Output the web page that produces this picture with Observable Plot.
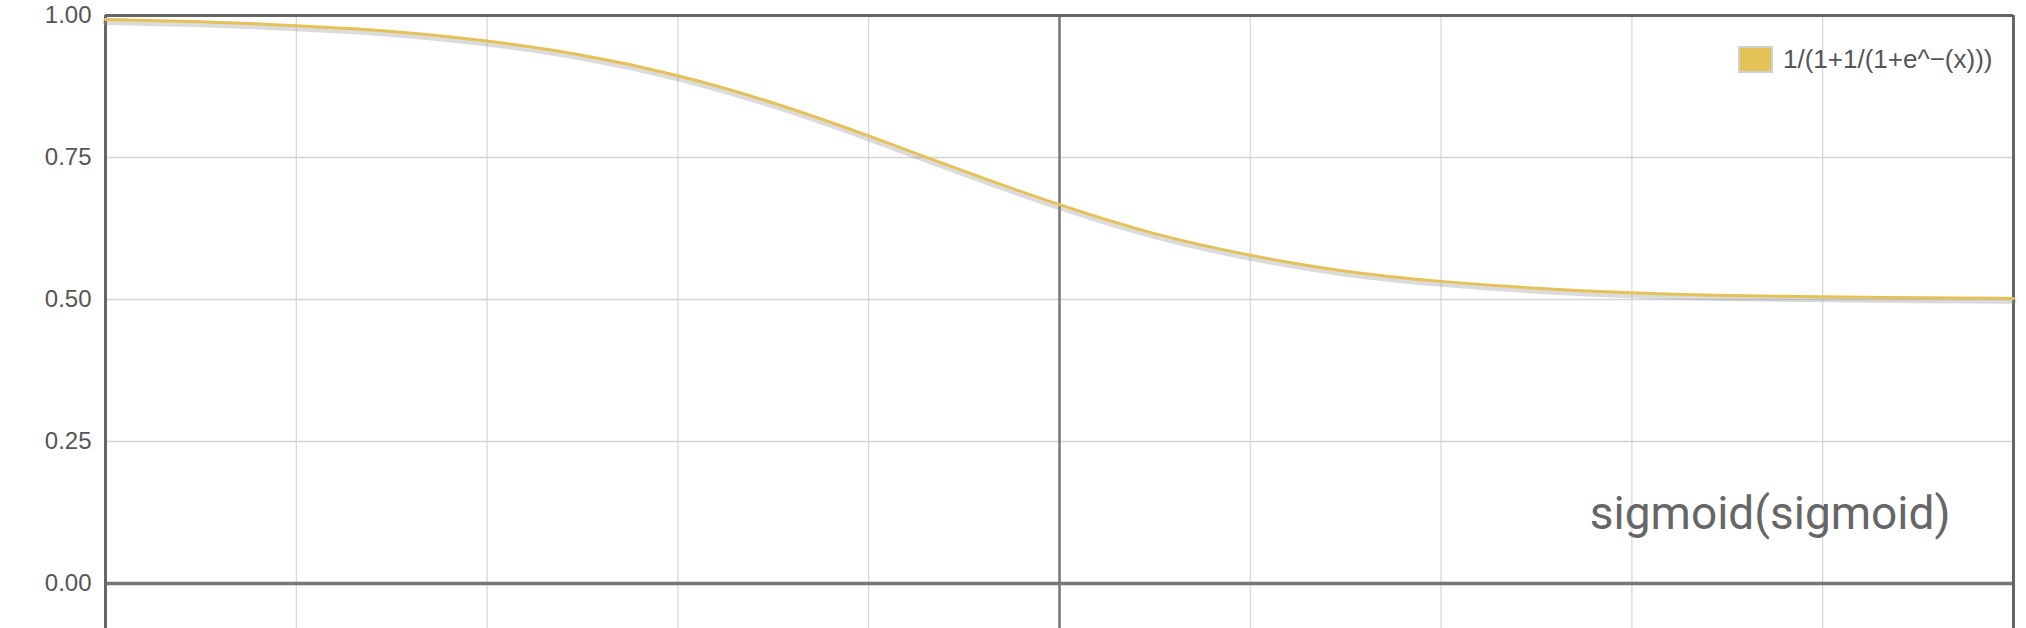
<!DOCTYPE html>
<html>
<head>
<meta charset="utf-8">
<script src="https://cdn.jsdelivr.net/npm/d3@7"></script>
<script src="https://cdn.jsdelivr.net/npm/@observablehq/plot@0.6"></script>
<style>
  html, body { margin: 0; padding: 0; background: #fff; }
  #wrap { position: relative; width: 2026px; height: 628px; font-family: "Liberation Sans", Arial, sans-serif; }
  #legend { position: absolute; left: 1738px; top: 44px; display: flex; align-items: center; font-size: 26px; color: #555; }
  #legend .sw { width: 31px; height: 23px; background: #e5c257; border: 2px solid #d0d0d0; margin-right: 10px; }
</style>
</head>
<body>
<div id="wrap"><div id="legend"><div class="sw"></div><span>1/(1+1/(1+e^−(x)))</span></div></div>
<script>
// x positions and values
const xs = [-5, -4.5, -4, -3.5, -3, -2.5, -2, -1.5, -1, -0.5, 0, 0.5, 1, 1.5, 2, 2.5, 3, 3.5, 4, 4.5, 5];
const ys = [0.993, 0.989, 0.982, 0.972, 0.955, 0.930, 0.894, 0.846, 0.788, 0.726, 0.667, 0.616, 0.578, 0.550, 0.532, 0.520, 0.512, 0.507, 0.505, 0.503, 0.502];
const xGrid = [-5, -4, -3, -2, -1, 0, 1, 2, 3, 4, 5];
const yTicks = [0, 0.25, 0.5, 0.75, 1];
const seriesLabel = "1/(1+1/(1+e^−(x)))";
const annotation = ["sigmoid(sigmoid)"];

const data = xs.map((x, i) => ({x, y: ys[i]}));

const chart = Plot.plot({
  width: 2026,
  height: 628,
  marginLeft: 105,
  marginRight: 13,
  marginTop: 15,
  marginBottom: 0,
  style: {fontFamily: "'Liberation Sans', Arial, sans-serif", background: "#fff"},
  x: {domain: [-5, 5], axis: null},
  y: {domain: [-0.079, 1], axis: null},
  marks: [
    Plot.gridX(xGrid, {stroke: "#d4d4d4", strokeOpacity: 1, strokeWidth: 1.2}),
    Plot.gridY(yTicks, {stroke: "#d4d4d4", strokeOpacity: 1, strokeWidth: 1.5}),
    Plot.axisY(yTicks, {label: null, tickSize: 0, tickPadding: 14, tickFormat: d3.format(".2f"), fontSize: 24, fill: "#555"}),
    Plot.ruleX([0], {stroke: "#777", strokeWidth: 2.5}),
    Plot.ruleY([0], {stroke: "#777", strokeWidth: 3.5}),
    Plot.ruleY([1], {stroke: "#666", strokeWidth: 3}),
    Plot.ruleX([-5, 5], {stroke: "#666", strokeWidth: 3}),
    Plot.line(data, {x: "x", y: "y", curve: "natural", stroke: "#888", strokeOpacity: 0.3, strokeWidth: 6, dy: 2.5}),
    Plot.line(data, {x: "x", y: "y", curve: "natural", stroke: "#e5c257", strokeWidth: 3}),
    Plot.text(annotation, {frameAnchor: "bottom-right", dx: -63, dy: -100, fontSize: 46, fill: "#666", fontFamily: "Roboto, sans-serif"})
  ]
});
document.getElementById("wrap").prepend(chart);
</script>
</body>
</html>
